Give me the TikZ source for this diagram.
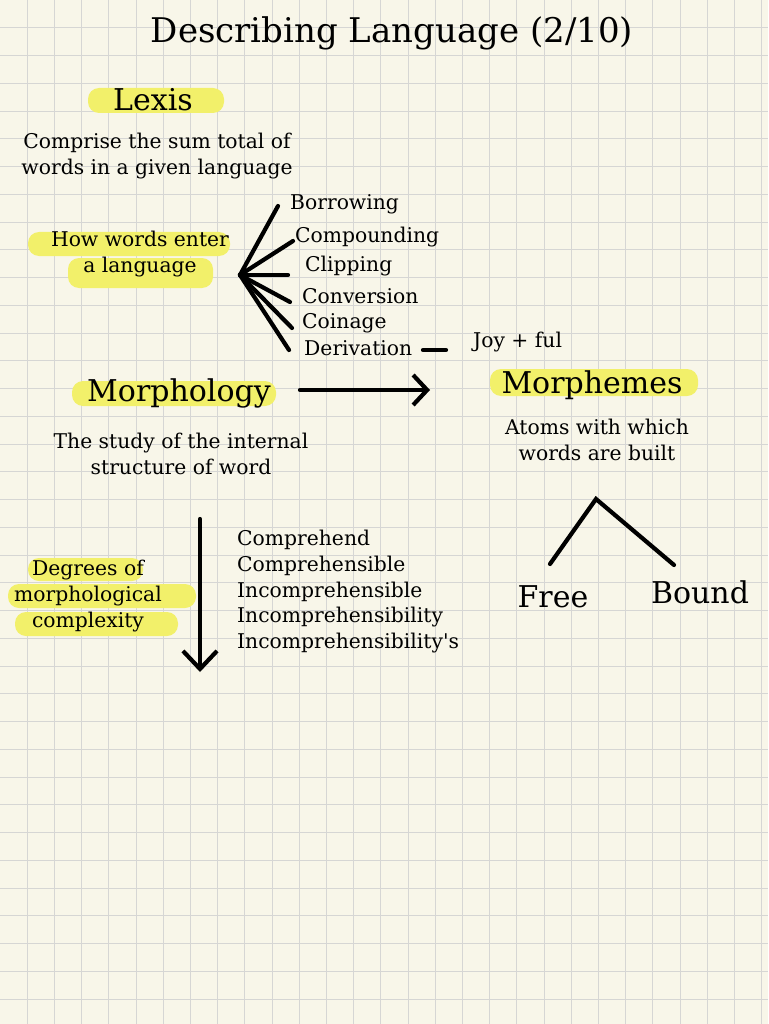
\documentclass[tikz,border=0pt]{standalone}
\usepackage{fontspec}
\setmainfont{DejaVu Serif}
\usetikzlibrary{arrows.meta}
\definecolor{paper}{HTML}{F8F6E9}
\definecolor{gridc}{HTML}{D6D6D4}
\definecolor{hl}{HTML}{F2F06A}
\tikzset{
  hi/.style={fill=hl,rounded corners=11pt,draw=none},
  ink/.style={line width=4.2pt,line cap=round,black},
  body/.style={font=\fontsize{20.3}{25.7}\selectfont,inner sep=0pt},
  lbl/.style={font=\fontsize{20.3}{24}\selectfont,inner sep=0pt,anchor=west},
  head/.style={font=\fontsize{30}{34}\selectfont,inner sep=0pt},
}
\begin{document}
\begin{tikzpicture}[x=1pt,y=-1pt]
\fill[paper] (0,0) rectangle (768,1024);
\useasboundingbox (0,0) rectangle (768,1024);
\foreach \i in {1,...,28} \draw[gridc,line width=0.8pt] (\i*27.2,0) -- (\i*27.2,1024);
\foreach \j in {1,...,36} \draw[gridc,line width=0.8pt] (0,\j*27.75) -- (768,\j*27.75);
% highlights
\fill[hi] (88,88) rectangle (224,113);
\fill[hi] (28,232) rectangle (230,256);
\fill[hi] (68,258) rectangle (213,288);
\fill[hi] (72,381) rectangle (276,406);
\fill[hi] (490,369) rectangle (698,396);
\fill[hi] (28,558) rectangle (143,581);
\fill[hi] (8,584) rectangle (196,608);
\fill[hi] (15,612) rectangle (178,636);
% texts
\node[font=\fontsize{34}{40}\selectfont,inner sep=0pt] (title) at (392,33) {Describing Language (2/10)};
\node[head] (lexis) at (153,100) {Lexis};
\node[body,align=center] (lexdef) at (157,156) {Comprise the sum total of\\words in a given language};
\node[body,align=center] (how) at (140,254) {How words enter\\a language};
\coordinate (fan) at (240,275);
\node[lbl] (b1) at (290,204) {Borrowing};
\node[lbl] (b2) at (295,237) {Compounding};
\node[lbl] (b3) at (305,266) {Clipping};
\node[lbl] (b4) at (302,296) {Conversion};
\node[lbl] (b5) at (302,323) {Coinage};
\node[lbl] (b6) at (304,348) {Derivation};
\node[lbl] (joy) at (473,342) {Joy + ful};
\coordinate (e1) at (278,206); \coordinate (e2) at (293,241);
\coordinate (e3) at (288,275); \coordinate (e4) at (290,302);
\coordinate (e5) at (292,328); \coordinate (e6) at (289,350);
\foreach \e in {e1,e2,e3,e4,e5,e6} \draw[ink] (fan) -- (\e);
\coordinate (dash) at (423,350);
\draw[ink] (dash) -- ++(23,0);
\node[head] (morph) at (179,393) {Morphology};
\node[head] (morphemes) at (592,385) {Morphemes};
\draw[ink,-{Straight Barb[length=14pt,width=30pt,line width=4.2pt]}] (300,390) -- (430,390);
\node[body,align=center] (atoms) at (597,440) {Atoms with which\\words are built};
\node[body,align=center] (study) at (181,454) {The study of the internal\\structure of word};
\coordinate (apex) at (596,499);
\draw[ink] (550,564) -- (apex) -- (674,565);
\node[head] (free) at (553,597) {Free};
\node[head] (bound) at (700,592) {Bound};
\draw[ink,-{Straight Barb[length=18pt,width=34pt,line width=4.2pt]}] (200,519) -- (200,672);
\node[body,align=center] (deg) at (88,596) {Degrees of\\morphological\\complexity};
\node[body,align=left,anchor=north west] (words) at (237,530) {Comprehend\\Comprehensible\\Incomprehensible\\Incomprehensibility\\Incomprehensibility\textquotesingle s};
\end{tikzpicture}
\end{document}
